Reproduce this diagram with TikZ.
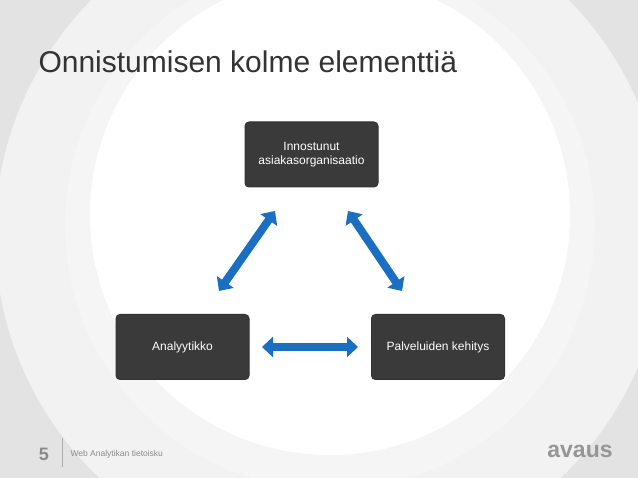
\documentclass[tikz,border=0pt]{standalone}
\usepackage{fontspec}
\setmainfont{Liberation Sans}
\usetikzlibrary{arrows.meta}
\definecolor{bx}{HTML}{3A3A3A}
\definecolor{ar}{HTML}{1B6FC2}
\definecolor{ft}{HTML}{8A8A8A}
\begin{document}
\begin{tikzpicture}[x=1pt,y=-1pt,
  box/.style={draw=black!80,line width=1pt,fill=bx,rounded corners=4pt,text=white,font=\fontsize{12}{14}\selectfont,align=center,minimum width=133pt,minimum height=65pt,inner sep=2pt},
  dbl/.style={draw=ar,line width=8pt,{Triangle[length=11pt,width=20pt]}-{Triangle[length=11pt,width=20pt]}}]
\useasboundingbox (0,0) rectangle (638,478);
\fill[black!11] (0,0) rectangle (638,478);
\begin{scope}
\clip (0,0) rectangle (638,478);
\fill[black!5] (330,235) circle (335);
\fill[white!96!black] (330,225) circle (265);
\fill[white] (330,215) circle (240);
\end{scope}
\node[anchor=west,text=black!80,font=\fontsize{30}{34}\selectfont] (title) at (35,62) {Onnistumisen kolme elementtiä};
\node[box] (top) at (311.5,154.5) {Innostunut\\asiakasorganisaatio};
\node[box] (left) at (182.5,347) {Analyytikko};
\node[box] (right) at (438,347) {Palveluiden kehitys};
\coordinate (a1) at (275,211); \coordinate (a2) at (219,291);
\coordinate (b1) at (348,211); \coordinate (b2) at (402,291);
\coordinate (c1) at (262,347); \coordinate (c2) at (358,347);
\draw[dbl] (a1) -- (a2);
\draw[dbl] (b1) -- (b2);
\draw[dbl] (c1) -- (c2);
\node[text=ft,font=\bfseries\fontsize{18}{20}\selectfont] (num) at (44,454) {5};
\coordinate (l1) at (62,438); \coordinate (l2) at (62,467);
\draw[ft!70,line width=0.6pt] (l1) -- (l2);
\node[anchor=west,text=ft,font=\fontsize{8.5}{10}\selectfont] (foot) at (67,454) {Web Analytikan tietoisku};
\node[text=ft!90,font=\bfseries\fontsize{23}{25}\selectfont] (logo) at (580,451) {avaus};
\end{tikzpicture}
\end{document}
